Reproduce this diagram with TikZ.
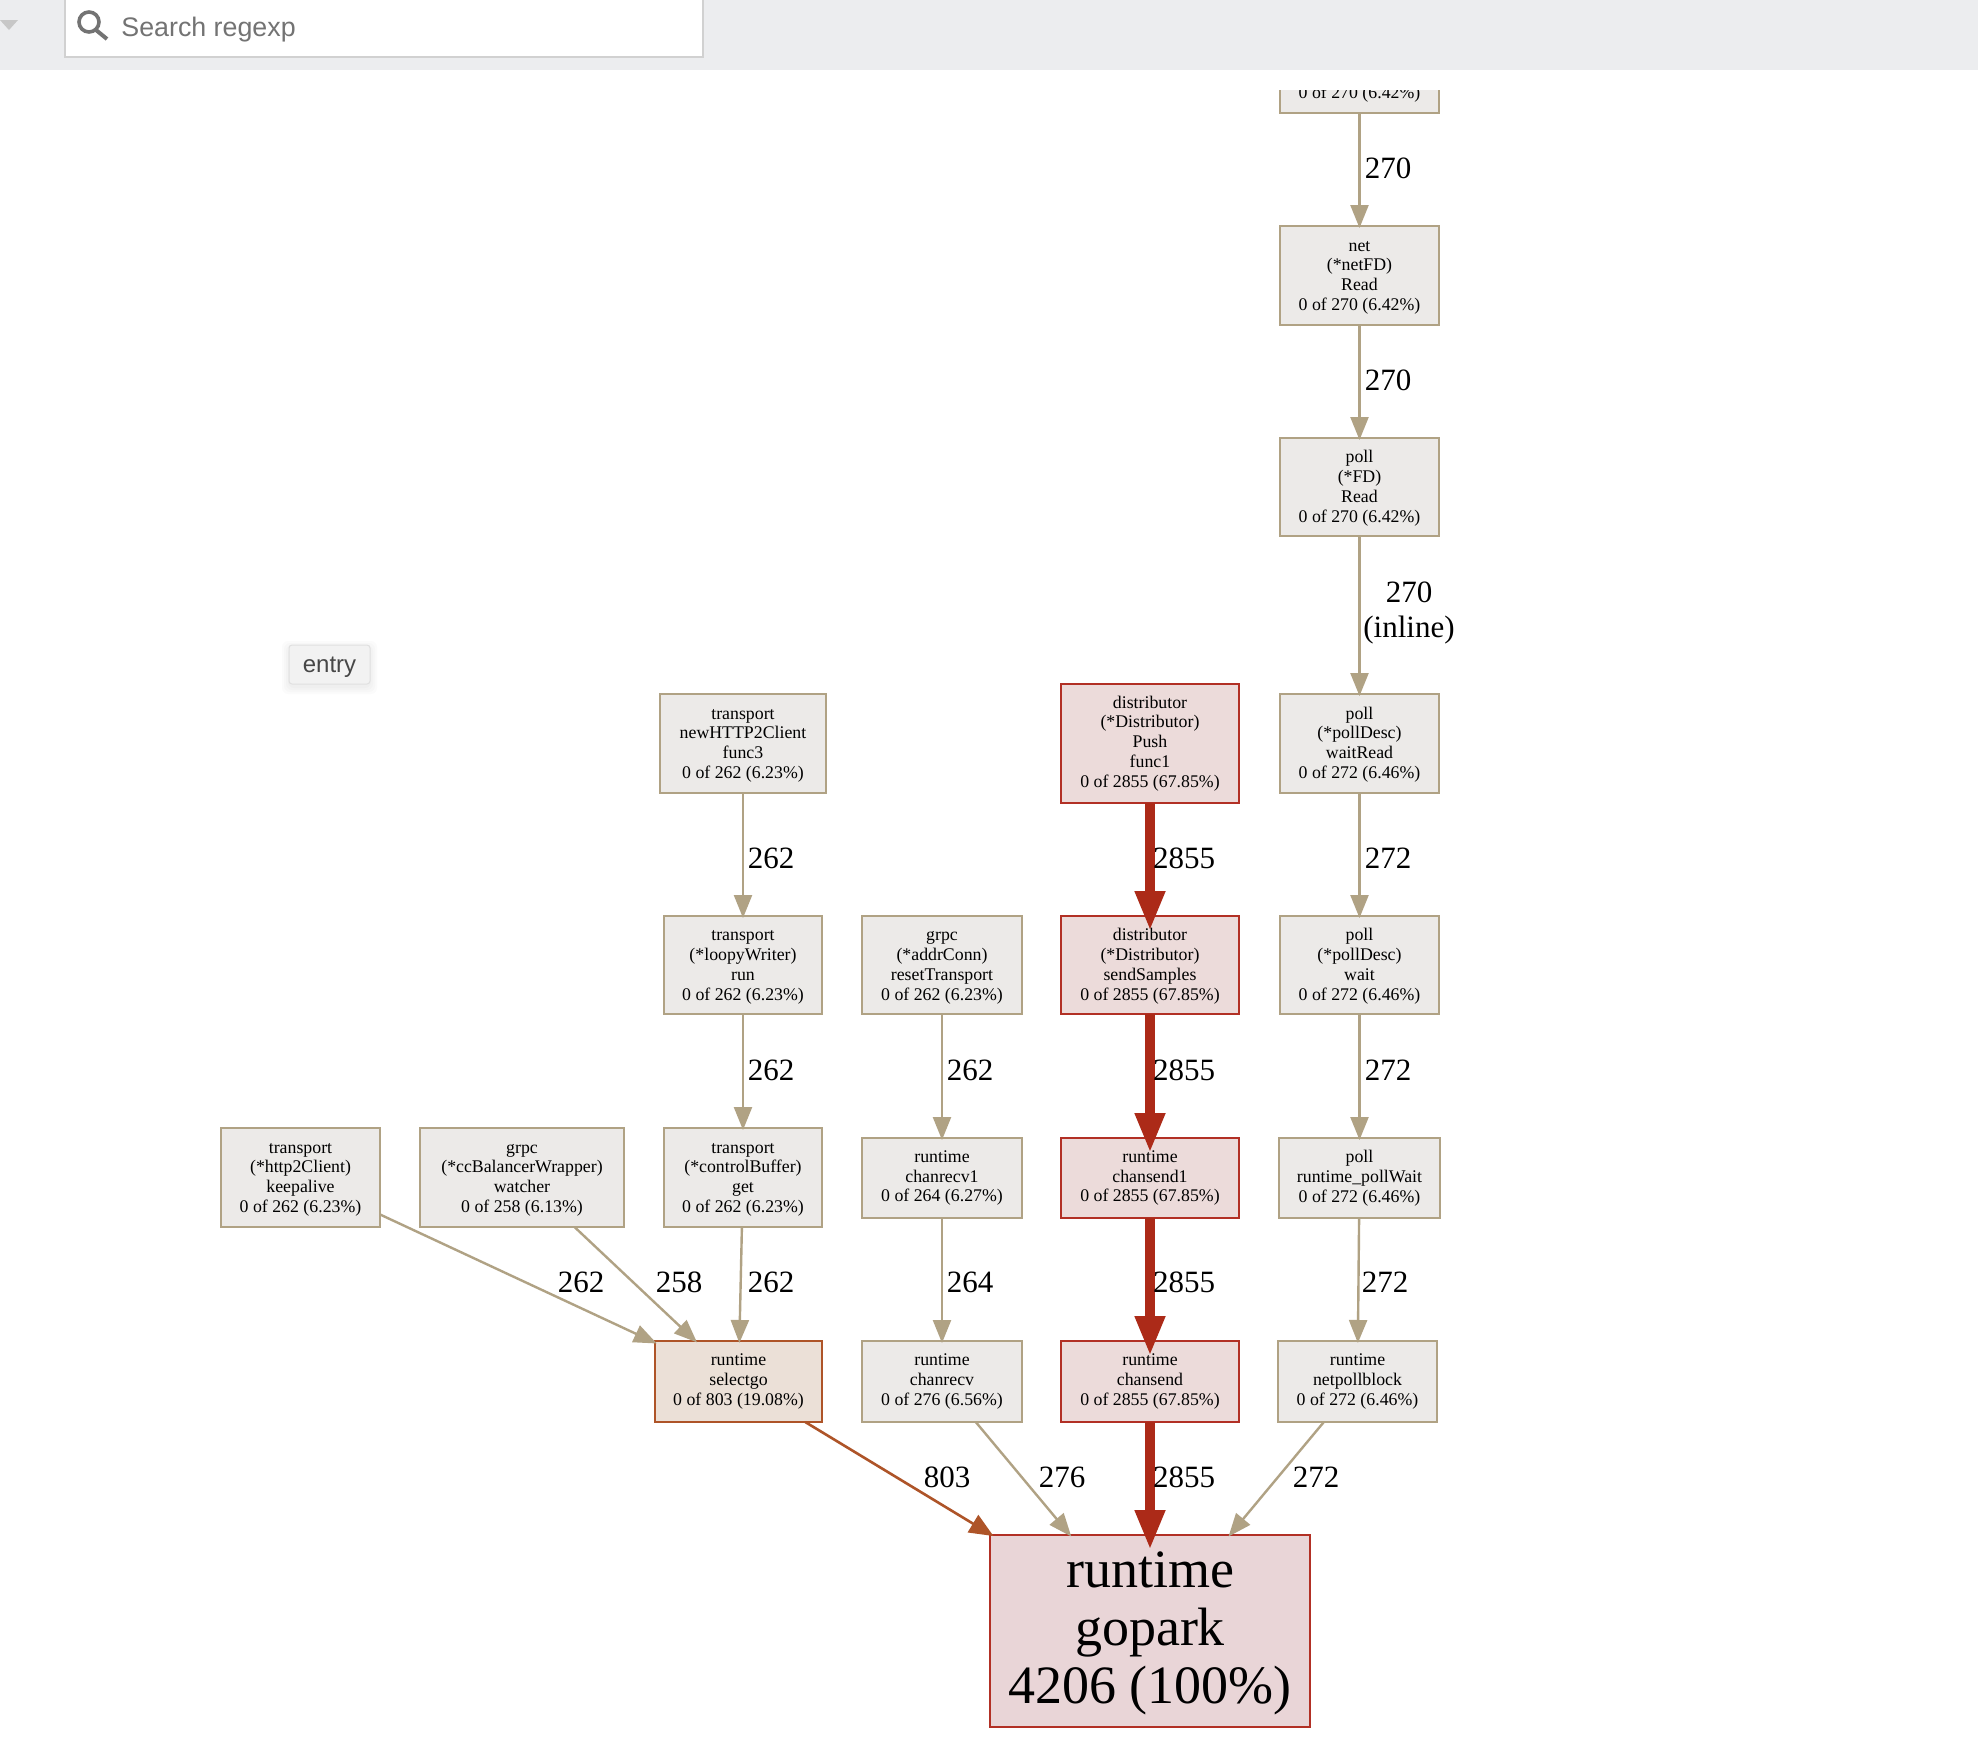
\documentclass[tikz,border=0pt]{standalone}
\usepackage{fontspec}
\setmainfont{Liberation Serif}
\newfontfamily\uifont{Liberation Sans}
\usetikzlibrary{arrows.meta,calc}
\definecolor{tanline}{HTML}{B0A284}
\definecolor{tanfill}{HTML}{ECEAE8}
\definecolor{redline}{HTML}{AC2A18}
\definecolor{redborder}{HTML}{B23025}
\definecolor{redfill}{HTML}{ECDBDA}
\definecolor{orgline}{HTML}{AE5428}
\definecolor{orgfill}{HTML}{EBE0D7}
\definecolor{topfill}{HTML}{E9D5D7}
\definecolor{barfill}{HTML}{ECEDEF}
\tikzset{
  x=0.5pt,y=-0.5pt,
  pbox/.style={draw,rectangle,inner sep=0pt,outer sep=0pt,align=center,line width=1.25pt,
    font=\fontsize{8.9}{9.9}\selectfont},
  coldbox/.style={pbox,draw=tanline,fill=tanfill},
  hotbox/.style={pbox,draw=redborder,fill=redfill},
  warmbox/.style={pbox,draw=orgline,fill=orgfill},
  bigbox/.style={pbox,draw=redborder,fill=topfill,font=\fontsize{27}{29}\selectfont},
  cold/.style={draw=tanline,line width=1.2pt,shorten >=-1pt,-{Triangle[width=9pt,length=11.5pt,fill=tanline]}},
  warm/.style={draw=orgline,line width=1.3pt,shorten >=-1pt,-{Triangle[width=10pt,length=12pt,fill=orgline]}},
  hot/.style={draw=redline,line width=5pt,shorten >=-7.5pt,-{Triangle[width=14pt,length=20pt,fill=redline]}},
  elabel/.style={inner sep=0pt,align=center,font=\fontsize{15.5}{17.5}\selectfont},
}
\newcommand{\fl}{\rule{0pt}{7.2pt}}
\newcommand{\pn}[7]{%
  \pgfmathsetmacro{\cxv}{(#3+#5)/2}\pgfmathsetmacro{\cyv}{(#4+#6)/2}%
  \pgfmathsetmacro{\wv}{(#5-#3)*0.5}\pgfmathsetmacro{\hv}{(#6-#4)*0.5}%
  \node[#1,minimum width=\wv pt,minimum height=\hv pt] (#2) at (\cxv,\cyv) {#7};}
\newcommand{\el}[4]{\node[elabel] (#1) at (#2,#3) {#4};}
\begin{document}
\begin{tikzpicture}
\useasboundingbox (0,0) rectangle (1978,1740);
\fill[white] (0,0) rectangle (1978,1740);
% clipped node at the top
\begin{scope}
\clip (1270,90) rectangle (1450,120);
\pn{coldbox}{fd}{1280}{14}{1439}{113}{\fl net\\x\\y\\0 of 270 (6.42\%)}
\end{scope}
\pn{coldbox}{netread}{1280}{226}{1439}{325}{\fl net\\(*netFD)\\Read\\0 of 270 (6.42\%)}
\pn{coldbox}{pollread}{1280}{438}{1439}{536}{\fl poll\\(*FD)\\Read\\0 of 270 (6.42\%)}
\pn{coldbox}{waitread}{1280}{694}{1439}{793}{\fl poll\\(*pollDesc)\\waitRead\\0 of 272 (6.46\%)}
\pn{coldbox}{pollwait}{1280}{916}{1439}{1014}{\fl poll\\(*pollDesc)\\wait\\0 of 272 (6.46\%)}
\pn{coldbox}{rtwait}{1279}{1138}{1440}{1218}{poll\\runtime\_pollWait\\0 of 272 (6.46\%)}
\pn{coldbox}{netblock}{1278}{1341}{1437}{1422}{runtime\\netpollblock\\0 of 272 (6.46\%)}
\pn{hotbox}{push}{1061}{684}{1239}{803}{distributor\\(*Distributor)\\Push\\func1\\0 of 2855 (67.85\%)}
\pn{hotbox}{samples}{1061}{916}{1239}{1014}{\fl distributor\\(*Distributor)\\sendSamples\\0 of 2855 (67.85\%)}
\pn{hotbox}{send1}{1061}{1138}{1239}{1218}{runtime\\chansend1\\0 of 2855 (67.85\%)}
\pn{hotbox}{send}{1061}{1341}{1239}{1422}{runtime\\chansend\\0 of 2855 (67.85\%)}
\pn{coldbox}{addr}{862}{916}{1022}{1014}{\fl grpc\\(*addrConn)\\resetTransport\\0 of 262 (6.23\%)}
\pn{coldbox}{recv1}{862}{1138}{1022}{1218}{runtime\\chanrecv1\\0 of 264 (6.27\%)}
\pn{coldbox}{recv}{862}{1341}{1022}{1422}{runtime\\chanrecv\\0 of 276 (6.56\%)}
\pn{coldbox}{newclient}{660}{694}{826}{793}{\fl transport\\newHTTP2Client\\func3\\0 of 262 (6.23\%)}
\pn{coldbox}{loopy}{664}{916}{822}{1014}{\fl transport\\(*loopyWriter)\\run\\0 of 262 (6.23\%)}
\pn{coldbox}{ctrl}{664}{1128}{822}{1227}{\fl transport\\(*controlBuffer)\\get\\0 of 262 (6.23\%)}
\pn{coldbox}{keep}{221}{1128}{380}{1227}{\fl transport\\(*http2Client)\\keepalive\\0 of 262 (6.23\%)}
\pn{coldbox}{watcher}{420}{1128}{624}{1227}{\fl grpc\\(*ccBalancerWrapper)\\watcher\\0 of 258 (6.13\%)}
\pn{warmbox}{select}{655}{1341}{822}{1422}{runtime\\selectgo\\0 of 803 (19.08\%)}
\pn{bigbox}{gopark}{990}{1535}{1310}{1727}{\rule{0pt}{20.4pt}runtime\\gopark\\4206 (100\%)}
% edges
\draw[cold] (fd) -- (netread);
\draw[cold] (netread) -- (pollread);
\draw[cold] (pollread) -- (waitread);
\draw[cold] (waitread) -- (pollwait);
\draw[cold] (pollwait) -- (rtwait);
\draw[cold] (rtwait) -- (netblock);
\draw[cold] (netblock) -- (gopark);
\draw[hot] (push) -- (samples);
\draw[hot] (samples) -- (send1);
\draw[hot] (send1) -- (send);
\draw[hot] (send) -- (gopark);
\draw[cold] (addr) -- (recv1);
\draw[cold] (recv1) -- (recv);
\draw[cold] (recv) -- (gopark);
\draw[cold] (newclient) -- (loopy);
\draw[cold] (loopy) -- (ctrl);
\draw[cold] (ctrl) -- (select);
\draw[cold] (keep) -- (select);
\draw[cold] (watcher) -- (select);
\draw[warm] (select) -- (gopark);
% edge labels
\el{la}{1388}{168}{270}
\el{lb}{1388}{380}{270}
\el{lc}{1409}{613}{270\\(inline)}
\el{ld}{771}{858}{262}
\el{le}{1184}{858}{2855}
\el{lf}{1388}{858}{272}
\el{lg}{771}{1070}{262}
\el{lh}{970}{1070}{262}
\el{li}{1184}{1070}{2855}
\el{lj}{1388}{1070}{272}
\el{lk}{581}{1282}{262}
\el{ll}{679}{1282}{258}
\el{lm}{771}{1282}{262}
\el{ln}{970}{1282}{264}
\el{lo}{1184}{1282}{2855}
\el{lp}{1385}{1282}{272}
\el{lq}{947}{1477}{803}
\el{lr}{1062}{1477}{276}
\el{ls}{1184}{1477}{2855}
\el{lt}{1316}{1477}{272}
% header bar
\fill[barfill] (0,0) rectangle (1978,70);
\draw[draw=black!18,line width=1pt,fill=white] (65,-5) rectangle (703,57);
\fill[black!22] (0,20) -- (18,20) -- (9,30) -- cycle;
\draw[black!55,line width=1.8pt] (89,22) circle (10);
\draw[black!55,line width=2pt] (96,30) -- (107,39);
\node[inner sep=0pt,anchor=base west,text=black!55,font=\uifont\fontsize{13.4}{14}\selectfont] (search) at (121,36) {Search regexp};
% tooltip
\foreach \g in {7,5,3,1}{
  \fill[black,opacity=.016,rounded corners=3pt] (289-\g,645-\g+3) rectangle (370+\g,684+\g+3);
}
\node[draw=black!12,line width=.5pt,fill=black!5,rounded corners=1.5pt,minimum width=40.5pt,minimum height=19.5pt,inner sep=0pt,
  text=black!72,text height=9pt,text depth=1.5pt,font=\uifont\fontsize{12}{13}\selectfont] (entry) at (329.5,664.5) {entry};
\end{tikzpicture}
\end{document}
